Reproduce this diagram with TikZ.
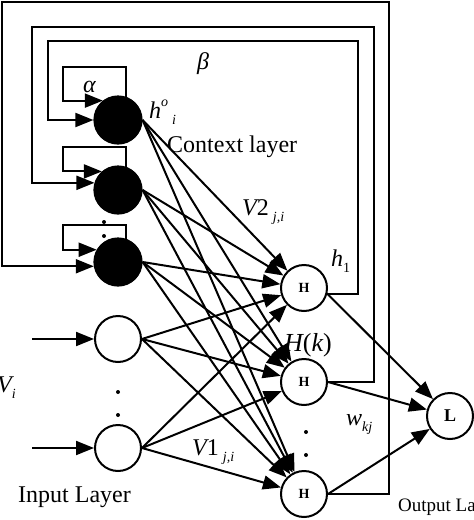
\documentclass[tikz,border=0pt]{standalone}
\usepackage{fontspec}
\setmainfont{Liberation Serif}
\usetikzlibrary{arrows.meta}
\newcommand\mysb[1]{\raisebox{-0.28em}{\fontsize{14}{14}\selectfont #1}}
\newcommand\mysp[1]{\raisebox{0.5em}{\fontsize{14}{14}\selectfont #1}}
\begin{document}
\begin{tikzpicture}[x=1pt,y=-1pt,
  ctx/.style={circle,draw=black,fill=black,line width=1.2pt,minimum size=48pt,inner sep=0pt},
  inp/.style={circle,draw=black,fill=white,line width=2pt,minimum size=46pt,inner sep=0pt},
  hid/.style={inp,font=\fontsize{14}{14}\selectfont\bfseries},
  outn/.style={inp,font=\fontsize{18}{18}\selectfont\bfseries},
  arr/.style={line width=2pt,-{Triangle[length=18pt,width=14pt]}},
  lbl/.style={inner sep=0pt,anchor=base west,font=\fontsize{24}{28}\selectfont},
  dotn/.style={circle,fill=black,inner sep=0pt,minimum size=4pt}]
\useasboundingbox (0,0) rectangle (474,520);

% nodes
\node[ctx] (C1) at (118,120) {};
\node[ctx] (C2) at (118,190) {};
\node[ctx] (C3) at (118,262) {};
\node[inp] (I1) at (118,339) {};
\node[inp] (I2) at (118,448) {};
\node[hid] (H1) at (304,288) {H};
\node[hid] (H2) at (304,382) {H};
\node[hid] (H3) at (304,494) {H};
\node[outn] (L) at (450,416) {L};

% dots
\node[dotn] (d1) at (104,222) {};
\node[dotn] (d2) at (104,236) {};
\node[dotn] (d3) at (118,392) {};
\node[dotn] (d4) at (118,415) {};
\node[dotn] (d5) at (306,432) {};
\node[dotn] (d6) at (306,455) {};

% full connections
\foreach \s in {C1,C2,C3,I1,I2}
  \foreach \h in {H1,H2,H3}
    \draw[arr] (\s.east) -- (\h);

% outputs
\draw[arr] (H1.-14) -- (L);
\draw[arr] (H2.east) -- (L);
\draw[arr] (H3.east) -- (L);

% self loops
\draw[arr] (C1.71) |- (63,67) |- (C1.128);
\draw[arr] (C2.71) |- (63,147) |- (C2.131);
\draw[arr] (C3.71) |- (63,225) |- (C3.150);

% feedback loops
\draw[arr] (H1.-14) -| (358,41) -| (48,80) |- (C1.west);
\draw[arr] (H2.east) -| (374,27) -| (32,100) |- (C2.163);
\draw[arr] (H3.east) -| (389,2) -| (2,100) |- (C3.190);

% inputs
\coordinate (in1) at (32,339);
\coordinate (in2) at (32,448);
\draw[arr] (in1) -- (I1.west);
\draw[arr] (in2) -- (I2.west);

% labels
\node[lbl] (la) at (83,92) {\itshape α};
\node[lbl] (lb) at (197,69) {\itshape β};
\node[lbl] (lh) at (149,118) {\itshape h\mysp{o}\,\mysb{i}};
\node[lbl] (lc) at (167,152) {Context layer};
\node[lbl] (lv2) at (242,215) {\itshape V\upshape 2\,\mysb{\itshape j,i}};
\node[lbl] (lh1) at (331,266) {\itshape h\upshape\mysb{1}};
\node[lbl,font=\fontsize{26}{30}\selectfont] (lhk) at (284,351) {\itshape H\upshape (\itshape k\upshape )};
\node[lbl] (lw) at (346,425) {\itshape w\mysb{kj}};
\node[lbl] (lv1) at (192,455) {\itshape V\upshape 1\,\mysb{\itshape j,i}};
\node[lbl,anchor=base east] (lvi) at (16,392) {\itshape V\mysb{i}};
\node[lbl] (lin) at (18,502) {Input Layer};
\node[lbl,font=\fontsize{19}{22}\selectfont] (lout) at (398,511) {Output Layer};
\end{tikzpicture}
\end{document}
